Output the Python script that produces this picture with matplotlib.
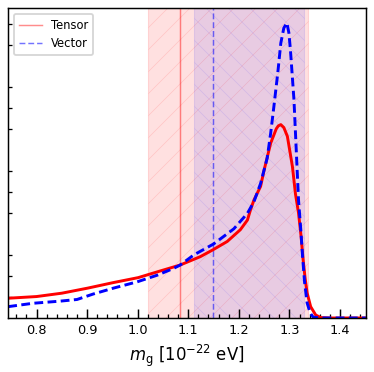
import matplotlib
matplotlib.use("Agg")
import matplotlib.pyplot as plt
from matplotlib.ticker import MultipleLocator

# posterior densities (arbitrary units)
m_tensor = [0.744, 0.800, 0.850, 0.901, 0.951, 1.001, 1.045, 1.084, 1.124, 1.150,
            1.177, 1.203, 1.217, 1.223, 1.230, 1.243, 1.250, 1.263, 1.274, 1.278,
            1.283, 1.289, 1.296, 1.306, 1.312, 1.318, 1.323, 1.327, 1.331, 1.335,
            1.342, 1.352, 1.362, 1.382, 1.451]
p_tensor = [0.47, 0.51, 0.59, 0.71, 0.84, 0.96, 1.12, 1.26, 1.46, 1.63,
            1.82, 2.10, 2.33, 2.57, 2.81, 3.13, 3.52, 4.16, 4.50, 4.57,
            4.60, 4.53, 4.32, 3.60, 2.95, 2.50, 1.95, 1.40, 0.95, 0.60,
            0.27, 0.07, 0.01, 0.0, 0.0]

m_vector = [0.744, 0.793, 0.846, 0.880, 0.912, 0.952, 0.999, 1.039, 1.071, 1.084,
            1.111, 1.150, 1.190, 1.217, 1.230, 1.243, 1.256, 1.263, 1.269, 1.277,
            1.283, 1.289, 1.295, 1.299, 1.302, 1.309, 1.312, 1.315, 1.318, 1.323,
            1.326, 1.330, 1.335, 1.341, 1.347, 1.362, 1.451]
p_vector = [0.27, 0.35, 0.40, 0.44, 0.57, 0.71, 0.86, 1.02, 1.18, 1.26,
            1.50, 1.76, 2.12, 2.49, 2.77, 3.20, 3.80, 4.40, 5.00, 5.83,
            6.54, 6.90, 7.02, 6.78, 6.38, 5.19, 4.40, 3.60, 2.81, 2.02,
            1.46, 0.85, 0.36, 0.12, 0.02, 0.0, 0.0]

# credible intervals and best values
tensor_band = (1.020, 1.336)
vector_band = (1.112, 1.328)
tensor_best = 1.083
vector_best = 1.148

plt.rcParams['hatch.linewidth'] = 0.4

dpi = 132
fig = plt.figure(figsize=(374 / dpi, 372 / dpi), dpi=dpi)
ax = fig.add_axes([0.022, 0.1452, 0.956, 0.8328])

ax.axvspan(*tensor_band, color='red', alpha=0.12, hatch='//', lw=0.6)
ax.axvspan(*vector_band, color='blue', alpha=0.09, hatch='\\\\', lw=0.6)
ax.axvline(tensor_best, color='red', alpha=0.45, lw=0.8, label='Tensor')
ax.axvline(vector_best, color='blue', alpha=0.55, lw=0.8, ls=(0, (4, 2)), label='Vector')

ax.plot(m_tensor, p_tensor, color='red', lw=1.6)
ax.plot(m_vector, p_vector, color='blue', lw=1.6, ls=(0, (3, 1.5)))

ax.set_xlim(0.744, 1.451)
ax.set_ylim(0, 7.37)
ax.xaxis.set_major_locator(MultipleLocator(0.1))
ax.xaxis.set_minor_locator(MultipleLocator(0.02))
ax.yaxis.set_major_locator(MultipleLocator(2))
ax.yaxis.set_minor_locator(MultipleLocator(0.5))
ax.tick_params(axis='x', which='major', direction='in', length=5, width=0.8, labelsize=7)
ax.tick_params(axis='x', which='minor', direction='in', length=2.4, width=0.7)
ax.tick_params(axis='y', which='major', length=0, labelleft=False)
ax.tick_params(axis='y', which='minor', direction='in', length=2.4, width=0.7)
for s in ax.spines.values():
    s.set_linewidth(0.8)

ax.set_xlabel(r'$m_{\rm g}$ [$10^{-22}$ eV]', fontsize=9, labelpad=3)
ax.legend(loc='upper left', fontsize=6.3)

fig.savefig('out.png', dpi=dpi)
